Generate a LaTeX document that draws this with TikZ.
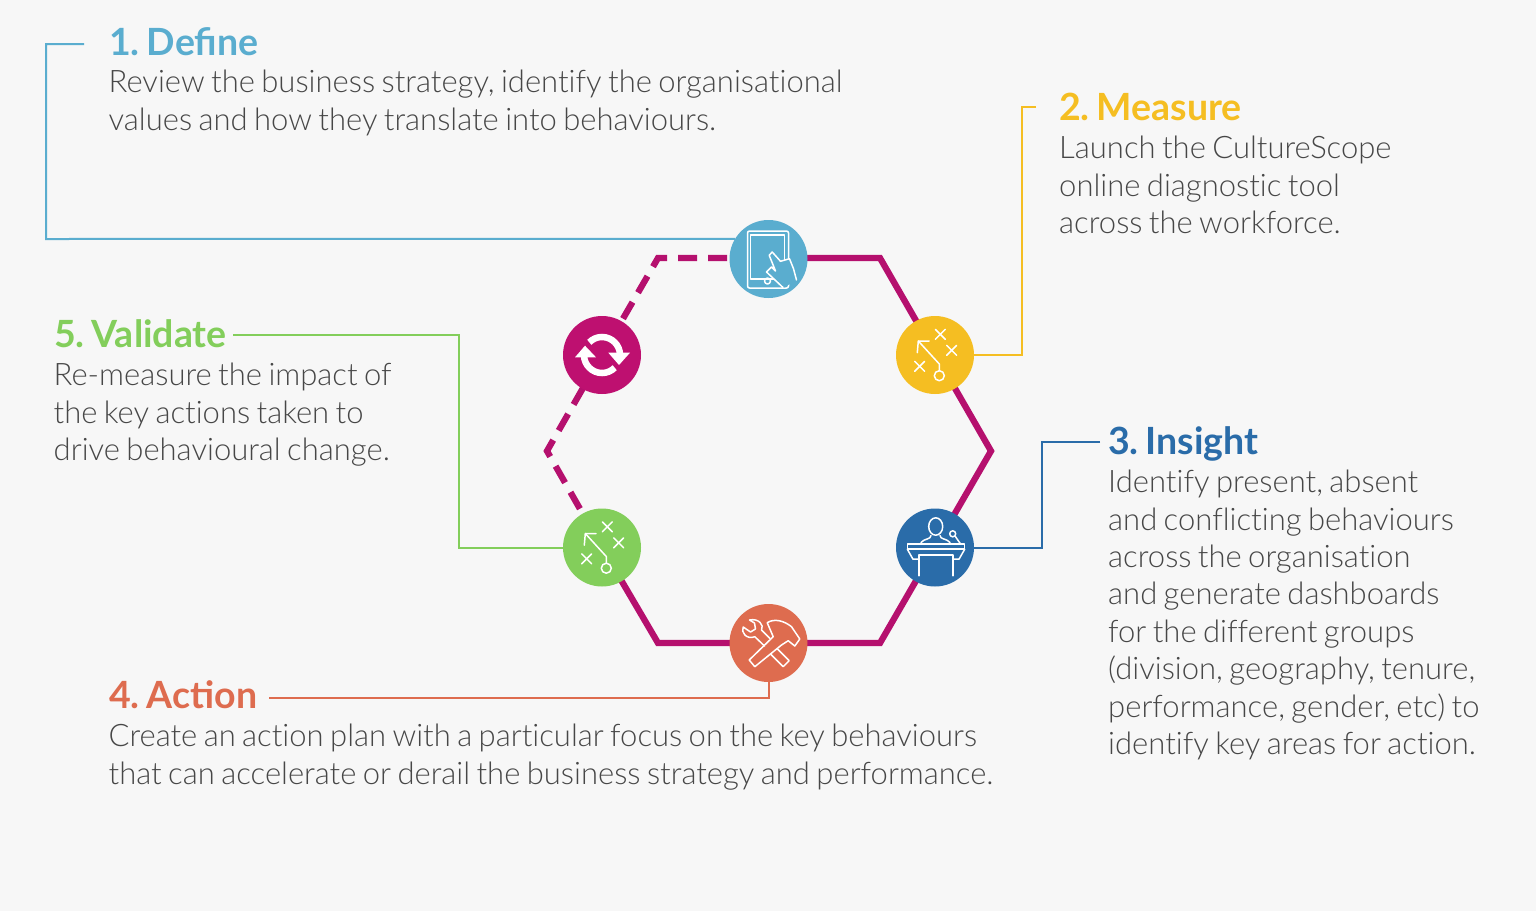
\documentclass[tikz,border=0pt]{standalone}
\usepackage{fontspec}
\setmainfont[WordSpace=0.76,Ligatures=NoCommon]{Lato Light}
\newfontfamily\headfont[WordSpace=0.42]{Lato Bold}
\definecolor{bgc}{HTML}{F7F7F7}
\definecolor{mag}{HTML}{B5106E}
\definecolor{magc}{HTML}{BE1070}
\definecolor{cdef}{HTML}{5AADCF}
\definecolor{cmea}{HTML}{F5BE22}
\definecolor{cins}{HTML}{2A6CA9}
\definecolor{cact}{HTML}{DE6C4F}
\definecolor{cval}{HTML}{83CE5B}
\definecolor{txt}{HTML}{474747}
\tikzset{x=1pt,y=-1pt,
  hexline/.style={draw=mag,line width=6.3pt,miter limit=10},
  hexdash/.style={hexline,dash pattern=on 19pt off 11pt},
  link/.style={line width=2pt},
  stepdot/.style={circle,minimum size=78pt,inner sep=0pt,fill=#1},
  icon/.style={draw=white,line width=1.5pt,line join=round,line cap=round},
  headtext/.style={anchor=base west,inner sep=0pt,font=\headfont\fontsize{37.5}{38}\selectfont},
  bodytext/.style={anchor=north west,inner sep=0pt,align=left,text=txt,font=\fontsize{31}{37.4}\selectfont},
}
\newcommand{\movesicon}[1]{%
  \begin{scope}[shift={(#1)}]
    \draw[icon] (4.3,20.7) circle (5);
    \draw[icon] (4.3,15.7) -- (4.3,9) -- (-16.7,-14);
    \draw[icon] (-6,-14) -- (-16.7,-14) -- (-17.7,-2.3);
    \foreach \a/\b in {5.3/-20.7,16.7/-4.7,-15.3/11.3}{
      \draw[icon] (\a-5,\b-5) -- (\a+5,\b+5) (\a-5,\b+5) -- (\a+5,\b-5);}
  \end{scope}}
\begin{document}
\begin{tikzpicture}
\useasboundingbox (0,0) rectangle (1536,911);
\fill[bgc] (0,0) rectangle (1536,911);
% corners
\coordinate (h1) at (880,258);
\coordinate (h2) at (991,451);
\coordinate (h3) at (880,643);
\coordinate (h4) at (658,643);
\coordinate (h5) at (547,451);
\coordinate (h6) at (658,258);
\coordinate (n1) at (768.5,258);
\coordinate (n2) at (935,355);
\coordinate (n3) at (935,547.5);
\coordinate (n4) at (768.5,643);
\coordinate (n5) at (602,547.5);
\coordinate (n6) at (602,355);
% hexagon
\draw[hexline] (n1) -- (h1) -- (h2) -- (h3) -- (h4) -- (n5);
\draw[hexdash] (727,258) -- (h6) -- (n6);
\draw[hexdash] (n6) ++(-19,33) -- (h5) -- (n5);
% circles
\node[stepdot=cdef] (c1) at (768.5,259) {};
\node[stepdot=cmea] (c2) at (935,355) {};
\node[stepdot=cins] (c3) at (935,547.5) {};
\node[stepdot=cact] (c4) at (768.5,643) {};
\node[stepdot=cval] (c5) at (602,547.5) {};
\node[stepdot=magc] (c6) at (602,355) {};
% connectors
\coordinate (s1) at (84,44); \coordinate (s2) at (1036,107); \coordinate (s3) at (1100,442);
\coordinate (s4) at (269,698); \coordinate (s5) at (233,335);
\draw[link,cdef] (s1) -- (46,44) -- (46,239) -- (c1.149);
\draw[link,cmea] (s2) -- (1022,107) -- (1022,355) -- (c2.east);
\draw[link,cins] (s3) -- (1042,442) -- (1042,547.5) -- (c3.east);
\draw[link,cact] (s4) -- (768.5,698) -- (c4.south);
\draw[link,cval] (s5) -- (459,335) -- (459,547.5) -- (c5.west);
% tablet
\begin{scope}[shift={(c1)}]
  \draw[icon,rounded corners=2pt] (-21,-28) rectangle (20,29);
  \draw[icon] (-18,-24) rectangle (16,20);
  \draw[icon] (-1,22) circle (3);
  \fill[cdef] (14.7,29) -- (-2,13) -- (3,8) -- (7,12) -- (0.7,-3.7) -- (3.7,-7) -- (12,2.3) -- (21,-0.3) -- (25,9.7) -- (28,21) -- cycle;
  \draw[icon] (14.7,28.7) -- (-2,13) -- (3,8) -- (7,12) -- (0.7,-3.7) -- (3.7,-7) -- (12,2.3) -- (21,-0.3) -- (25,9.7) -- (28,21);
\end{scope}
\movesicon{c2}
\movesicon{c5}
% podium
\begin{scope}[shift={(c3)}]
  \draw[icon] (0.7,-21) ellipse (7 and 8.7);
  \draw[icon] (-14,-5) .. controls (-11,-9) and (-4,-8) .. (-4,-12);
  \draw[icon] (5,-12) .. controls (5,-8) and (12,-9) .. (15,-5);
  \draw[icon] (17.7,-13.7) circle (3);
  \draw[icon] (20,-11.5) -- (25.7,-3.3);
  \draw[icon] (-27.7,-3.3) rectangle (29.7,1.7);
  \draw[icon] (-27.7,1.7) -- (-22,11.7) -- (-16,11.7);
  \draw[icon] (29.7,1.7) -- (24,11.7) -- (18,11.7);
  \draw[icon] (-16,28.3) -- (-16,7.3) -- (18,7.3) -- (18,28.3);
\end{scope}
% tools
\begin{scope}[shift={(c4)}]
  \draw[icon] (-19.3,17) -- (4.7,-6.3) -- (-1.3,-20.3) .. controls (6,-25) and (16,-22) .. (23,-16.3) -- (31.3,-4) -- (26.3,3) -- (19.7,-2.3) -- (13,2) -- (-13.7,23.7) -- cycle;
  \draw[icon] (-4,3) -- (-13.7,-6.3) .. controls (-22,-3) and (-28,-11) .. (-25.3,-16) -- (-18,-11) -- (-13,-14) -- (-14,-20) -- (-19,-23) .. controls (-10,-25) and (-4,-18) .. (-7,-13) -- (1.5,-4.5);
  \draw[icon] (8.6,5.6) -- (20.7,17.7) -- (14.7,23.7) -- (1.9,10.9);
\end{scope}
% refresh
\begin{scope}[shift={(c6)}]
  \draw[white,line width=6.5pt] (-12.7,-12.7) .. controls (-9.3,-16.1) and (-4.8,-18) .. (0,-18) .. controls (9.9,-18) and (18,-9.9) .. (18,0);
  \draw[white,line width=6.5pt] (12.7,12.7) .. controls (9.3,16.1) and (4.8,18) .. (0,18) .. controls (-9.9,18) and (-18,9.9) .. (-18,0);
  \fill[white] (6.3,-2.3) -- (28,-2.3) -- (17,10) -- cycle;
  \fill[white] (-27,2.3) -- (-6,2.3) -- (-17,-9.3) -- cycle;
\end{scope}
% text
\node[headtext,text=cdef] (t1) at (109,55) {1. Define};
\node[headtext,text=cmea] (t2) at (1059,120) {2. Measure};
\node[headtext,text=cins] (t3) at (1108,454) {3. Insight};
\node[headtext,text=cact] (t4) at (109,708) {4. Action};
\node[headtext,text=cval] (t5) at (54,347) {5. Validate};
\node[bodytext] (b1) at (108.5,70) {Review the business strategy, identify the organisational\\values and how they translate into behaviours.};
\node[bodytext] (b2) at (1059,136) {Launch the CultureScope\\online diagnostic tool\\across the workforce.};
\node[bodytext] (b3) at (1108,470) {Identify present, absent\\and conflicting behaviours\\across the organisation\\and generate dashboards\\for the different groups\\(division, geography, tenure,\\performance, gender, etc) to\\identify key areas for action.};
\node[bodytext] (b4) at (108.5,724) {Create an action plan with a particular focus on the key behaviours\\that can accelerate or derail the business strategy and performance.};
\node[bodytext] (b5) at (53.5,363) {Re-measure the impact of\\the key actions taken to\\drive behavioural change.};
\end{tikzpicture}
\end{document}
